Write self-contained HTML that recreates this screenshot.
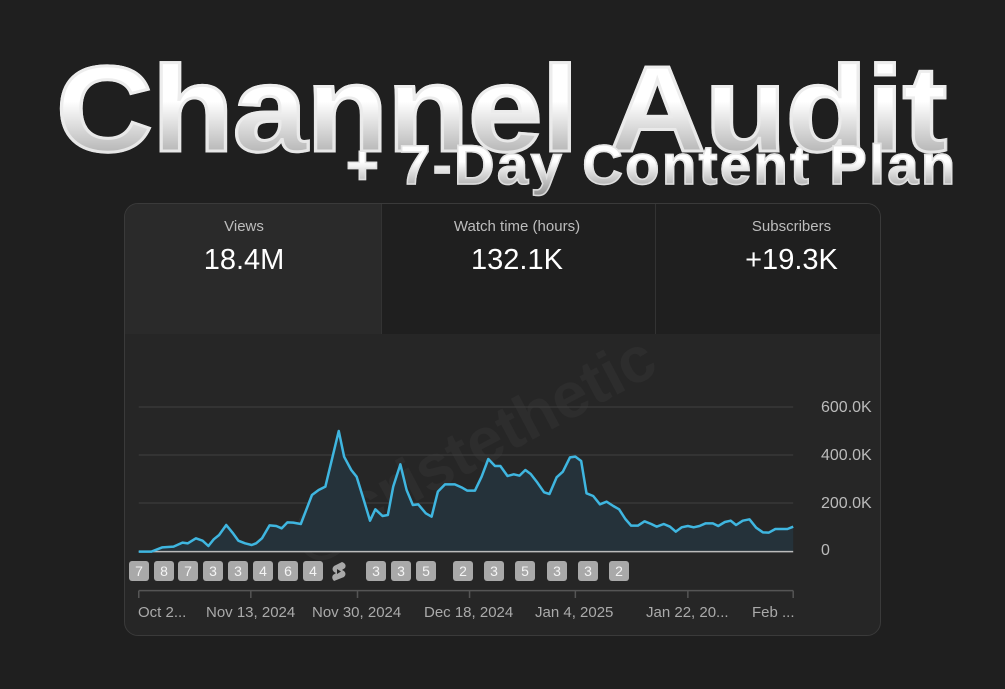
<!DOCTYPE html>
<html><head><meta charset="utf-8"><style>
html,body{margin:0;padding:0;width:1005px;height:689px;background:#1f1f1f;overflow:hidden;font-family:"Liberation Sans",sans-serif;}
.t1,.t2{position:absolute;font-weight:bold;white-space:nowrap;background:linear-gradient(#ffffff 0%,#ffffff 45%,#8a8a8a 100%);-webkit-background-clip:text;background-clip:text;color:transparent;transform-origin:0 0;}
.t1{left:56px;top:34px;font-size:122px;line-height:150px;letter-spacing:-1px;-webkit-text-stroke:3px rgba(235,235,235,0.9);transform:scaleX(1.1);}
.t2{left:346px;top:132px;font-size:56px;line-height:66px;letter-spacing:2.5px;-webkit-text-stroke:1.5px rgba(225,225,225,0.9);}
.card{position:absolute;left:124px;top:203px;width:755px;height:431px;border:1px solid #3a3a3a;border-radius:14px;background:#262626;overflow:hidden;}
.tab{position:absolute;top:0;height:130px;text-align:center;color:#fff;}
.tab .l{margin-top:14px;font-size:15px;color:#bdbdbd;}
.tab .v{margin-top:9px;font-size:29px;color:#fff;}
.badge{position:absolute;top:561px;width:20px;height:20px;border-radius:3px;background:#a9a9a9;color:#f4f4f4;font-size:14px;line-height:20px;text-align:center;}
.xl{position:absolute;top:604px;font-size:15px;color:#aaa;white-space:nowrap;}
.yl{position:absolute;left:821px;font-size:16px;color:#bbb;}
</style></head><body>
<div class="t1">Channel Audit</div>
<div class="t2">+ 7-Day Content Plan</div>
<div class="card">
 <div class="tab" style="left:0;width:256px;background:#2a2a2a;"><div style="position:relative;left:-9px"><div class="l">Views</div><div class="v">18.4M</div></div></div>
 <div class="tab" style="left:256px;width:274px;background:#1f1f1f;border-left:1px solid #333;"><div style="position:relative;left:-2px"><div class="l">Watch time (hours)</div><div class="v">132.1K</div></div></div>
 <div class="tab" style="left:530px;width:225px;background:#1f1f1f;border-left:1px solid #333;"><div style="position:relative;left:23px"><div class="l">Subscribers</div><div class="v">+19.3K</div></div></div>
</div>
<div style="position:absolute;left:270px;top:410px;font-size:64px;font-weight:bold;color:rgba(255,255,255,0.035);transform:rotate(-28deg);white-space:nowrap;">@cristethetic</div>
<svg style="position:absolute;left:120px;top:400px" width="700" height="240" viewBox="0 0 1568 720" preserveAspectRatio="none">
<g stroke="#404040" stroke-width="1">
<line x1="42" y1="21" x2="1508" y2="21" vector-effect="non-scaling-stroke"/>
<line x1="42" y1="165" x2="1508" y2="165" vector-effect="non-scaling-stroke"/>
<line x1="42" y1="309" x2="1508" y2="309" vector-effect="non-scaling-stroke"/>
</g>
<polygon fill="#25323a" points="42,455 70,455 95,442 120,440 140,428 152,430 170,415 185,422 198,438 210,418 222,405 238,375 252,398 265,422 280,430 295,435 305,430 318,415 335,376 350,378 362,385 375,367 388,368 405,372 430,285 445,270 460,260 490,93 502,170 518,210 530,230 545,295 560,362 572,328 588,348 600,345 612,260 628,193 642,270 656,315 668,313 685,340 698,350 712,275 728,253 750,253 765,262 778,272 795,272 810,230 825,177 840,198 852,198 868,228 882,223 895,227 908,210 920,222 935,248 950,277 962,282 978,232 992,215 1008,172 1020,170 1033,183 1045,280 1060,288 1075,313 1090,305 1105,318 1118,328 1132,357 1145,377 1160,377 1175,364 1190,372 1202,380 1218,372 1232,380 1245,395 1258,382 1272,378 1285,382 1298,378 1312,370 1328,370 1340,378 1355,366 1368,362 1380,375 1395,362 1410,358 1425,383 1440,397 1453,398 1468,387 1495,387 1508,380 1508,455"/>
<line x1="42" y1="455" x2="1508" y2="455" stroke="#bbb" stroke-width="1.5" vector-effect="non-scaling-stroke"/>
<polyline fill="none" stroke="#3fb6e0" stroke-width="2.5" stroke-linejoin="round" vector-effect="non-scaling-stroke" points="42,455 70,455 95,442 120,440 140,428 152,430 170,415 185,422 198,438 210,418 222,405 238,375 252,398 265,422 280,430 295,435 305,430 318,415 335,376 350,378 362,385 375,367 388,368 405,372 430,285 445,270 460,260 490,93 502,170 518,210 530,230 545,295 560,362 572,328 588,348 600,345 612,260 628,193 642,270 656,315 668,313 685,340 698,350 712,275 728,253 750,253 765,262 778,272 795,272 810,230 825,177 840,198 852,198 868,228 882,223 895,227 908,210 920,222 935,248 950,277 962,282 978,232 992,215 1008,172 1020,170 1033,183 1045,280 1060,288 1075,313 1090,305 1105,318 1118,328 1132,357 1145,377 1160,377 1175,364 1190,372 1202,380 1218,372 1232,380 1245,395 1258,382 1272,378 1285,382 1298,378 1312,370 1328,370 1340,378 1355,366 1368,362 1380,375 1395,362 1410,358 1425,383 1440,397 1453,398 1468,387 1495,387 1508,380"/>
<line x1="42" y1="572" x2="1508" y2="572" stroke="#555" stroke-width="1.5" vector-effect="non-scaling-stroke"/>
<g stroke="#555" stroke-width="1.5">
<line x1="42" y1="572" x2="42" y2="594" vector-effect="non-scaling-stroke"/><line x1="293" y1="572" x2="293" y2="594" vector-effect="non-scaling-stroke"/><line x1="532" y1="572" x2="532" y2="594" vector-effect="non-scaling-stroke"/><line x1="783" y1="572" x2="783" y2="594" vector-effect="non-scaling-stroke"/><line x1="1020" y1="572" x2="1020" y2="594" vector-effect="non-scaling-stroke"/><line x1="1272" y1="572" x2="1272" y2="594" vector-effect="non-scaling-stroke"/><line x1="1508" y1="572" x2="1508" y2="594" vector-effect="non-scaling-stroke"/>
</g>
</svg>
<div class="yl" style="top:399px">600.0K</div>
<div class="yl" style="top:447px">400.0K</div>
<div class="yl" style="top:495px">200.0K</div>
<div class="yl" style="top:542px">0</div>
<div class="badge" style="left:129px">7</div><div class="badge" style="left:154px">8</div><div class="badge" style="left:178px">7</div><div class="badge" style="left:203px">3</div><div class="badge" style="left:228px">3</div><div class="badge" style="left:253px">4</div><div class="badge" style="left:278px">6</div><div class="badge" style="left:303px">4</div>
<svg style="position:absolute;left:331px;top:561px" width="16" height="21" viewBox="0 0 16 21"><path d="M11 1 L3 5 Q0 8 3 11 L5 12 L2 14 Q0 17 3 20 L13 16 Q16 13 13 10 L11 9 L14 7 Q16 3 11 1Z" fill="#a9a9a9"/><path d="M6 8 L10 10.5 L6 13Z" fill="#262626"/></svg>
<div class="badge" style="left:366px">3</div><div class="badge" style="left:391px">3</div><div class="badge" style="left:416px">5</div>
<div class="badge" style="left:453px">2</div><div class="badge" style="left:484px">3</div><div class="badge" style="left:515px">5</div><div class="badge" style="left:547px">3</div><div class="badge" style="left:578px">3</div><div class="badge" style="left:609px">2</div>
<div class="xl" style="left:138px">Oct 2...</div>
<div class="xl" style="left:206px">Nov 13, 2024</div>
<div class="xl" style="left:312px">Nov 30, 2024</div>
<div class="xl" style="left:424px">Dec 18, 2024</div>
<div class="xl" style="left:535px">Jan 4, 2025</div>
<div class="xl" style="left:646px">Jan 22, 20...</div>
<div class="xl" style="left:752px">Feb ...</div>
</body></html>
